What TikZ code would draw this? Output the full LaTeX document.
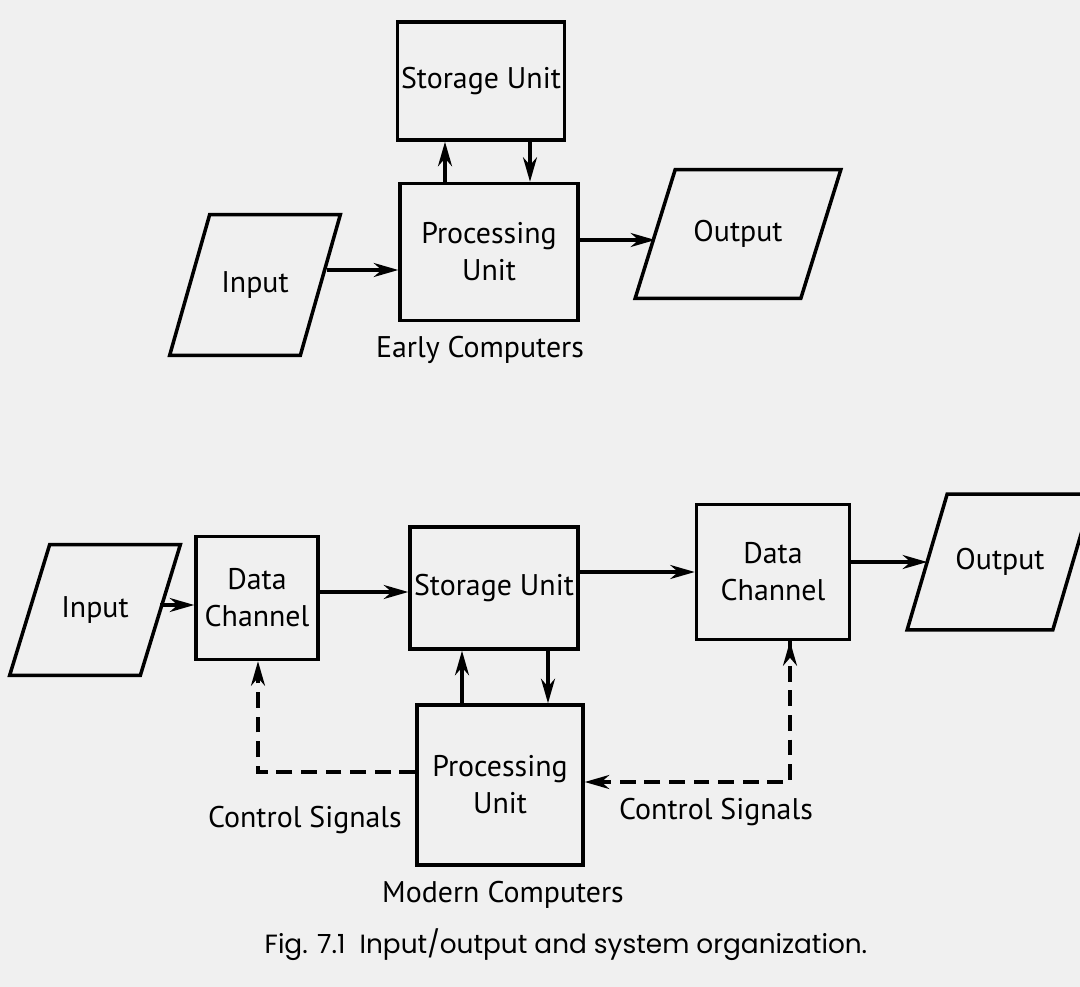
\documentclass[tikz,border=0pt]{standalone}
\usepackage{fontspec}
\setmainfont{PT Sans}
\newfontfamily\capfont{Poppins}
\usetikzlibrary{arrows.meta}
\begin{document}
\begin{tikzpicture}[x=0.02cm,y=-0.02cm,
  box/.style={draw,line width=2pt,align=center,font=\fontsize{17}{21}\selectfont,inner sep=0pt},
  para/.style={align=center,font=\fontsize{17}{21}\selectfont,inner sep=0pt},
  pline/.style={line width=2pt},
  lbl/.style={font=\fontsize{17}{21}\selectfont},
  arr/.style={line width=1.8pt,-{Stealth[length=14pt,width=8pt]}},
  darr/.style={line width=1.8pt,dash pattern=on 9pt off 5pt,-{Stealth[length=14pt,width=8pt]}}]
\fill[gray!12] (0,0) rectangle (1080,987);
\useasboundingbox (0,0) rectangle (1080,987);
% top diagram
\node[box,minimum width=3.34cm,minimum height=2.36cm] (su1) at (481,81) {Storage Unit};
\node[box,minimum width=3.56cm,minimum height=2.74cm] (pu1) at (489,252) {Processing\\Unit};
\node[para,minimum width=2.6cm,minimum height=2.8cm] (in1) at (255,285) {Input};
\draw[pline] ([xshift=-0.4cm]in1.south west)--([xshift=0.4cm]in1.north west)--([xshift=0.4cm]in1.north east)--([xshift=-0.4cm]in1.south east)--cycle;
\node[para,minimum width=3.3cm,minimum height=2.56cm] (out1) at (738,234) {Output};
\draw[pline] ([xshift=-0.4cm]out1.south west)--([xshift=0.4cm]out1.north west)--([xshift=0.4cm]out1.north east)--([xshift=-0.4cm]out1.south east)--cycle;
\coordinate (i1) at (327,270);
\draw[arr] (i1) -- (pu1.west|-i1);
\draw[arr] (pu1.east|-0,240) -- (out1.west|-0,240);
\draw[arr] (pu1.north-|445,0) -- (su1.south-|445,0);
\draw[arr] (su1.south-|530,0) -- (pu1.north-|530,0);
\node[lbl] (t1) at (480,350) {Early Computers};
% bottom diagram
\node[para,minimum width=2.6cm,minimum height=2.6cm] (in2) at (95,610) {Input};
\draw[pline] ([xshift=-0.4cm]in2.south west)--([xshift=0.4cm]in2.north west)--([xshift=0.4cm]in2.north east)--([xshift=-0.4cm]in2.south east)--cycle;
\node[box,minimum width=2.44cm,minimum height=2.46cm] (dc1) at (257,598) {Data\\Channel};
\node[box,minimum width=3.36cm,minimum height=2.44cm] (su2) at (494,588) {Storage Unit};
\node[box,minimum width=3.06cm,minimum height=2.7cm] (dc2) at (773,572) {Data\\Channel};
\node[para,minimum width=2.9cm,minimum height=2.7cm] (out2) at (1000,562) {Output};
\draw[pline] ([xshift=-0.4cm]out2.south west)--([xshift=0.4cm]out2.north west)--([xshift=0.4cm]out2.north east)--([xshift=-0.4cm]out2.south east)--cycle;
\node[box,minimum width=3.32cm,minimum height=3.2cm] (pu2) at (500,785) {Processing\\Unit};
\draw[arr] (in2.east|-0,605) -- (dc1.west|-0,605);
\draw[arr] (dc1.east|-0,592) -- (su2.west|-0,592);
\draw[arr] (su2.east|-0,572) -- (dc2.west|-0,572);
\draw[arr] (dc2.east|-0,562) -- (out2.west|-0,562);
\draw[arr] (pu2.north-|462,0) -- (su2.south-|462,0);
\draw[arr] (su2.south-|548,0) -- (pu2.north-|548,0);
\coordinate (cl) at (258,772);
\coordinate (cr) at (790,782);
\draw[darr] (pu2.west|-cl) -- (cl) -- (dc1.south-|cl);
\draw[darr] (dc2.south-|cr) -- (cr) -- (pu2.east|-cr);
\draw[line width=1.8pt,-{Stealth[length=14pt,width=8pt]}] ([yshift=-0.3cm]dc2.south-|cr) -- (dc2.south-|cr);
\node[lbl,anchor=east] (cs1) at (408,820) {Control Signals};
\node[lbl] (cs2) at (716,812) {Control Signals};
\node[lbl] (t2) at (503,895) {Modern Computers};
\node[font=\capfont\fontsize{15}{18}\selectfont] (cap) at (566,945) {Fig. 7.1\ \ Input/output and system organization.};
\end{tikzpicture}
\end{document}
